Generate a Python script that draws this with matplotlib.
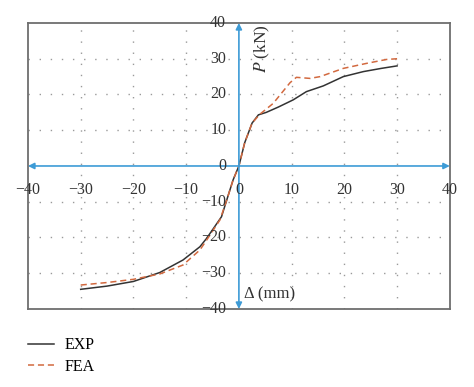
import numpy as np
import matplotlib.pyplot as plt

plt.rcParams['font.family'] = ['Liberation Serif', 'DejaVu Serif']

# EXP curve (displacement mm, load kN)
exp_x = [-30, -25, -20, -15, -10.6, -7.4, -6.1, -3.3, -2.3, -1.1, 0, 1.1, 2.5, 3.7, 5.2, 7.5, 10.3, 12.8, 16, 19.8, 23.6, 27, 30]
exp_y = [-34.5, -33.6, -32.3, -29.8, -26.3, -22.6, -20.2, -14.2, -9.5, -3.9, 0, 6.5, 12, 14.3, 15, 16.5, 18.5, 20.8, 22.4, 25, 26.4, 27.3, 28]

# FEA curve
fea_x = [-30, -25, -20, -15, -10.6, -7.4, -6.1, -3.6, -2.3, -1.1, 0, 1.1, 2.5, 4, 6.5, 9.7, 10.9, 13.5, 15.4, 19.8, 24.2, 28, 30]
fea_y = [-33.3, -32.6, -31.7, -30.2, -27.7, -23.5, -20.7, -15.1, -9.5, -3.9, 0, 6.5, 12, 14.5, 17.5, 23.3, 24.8, 24.5, 25, 27.3, 28.7, 29.8, 30]

ticks = [-40, -30, -20, -10, 0, 10, 20, 30, 40]
grid_ticks = [-30, -20, -10, 10, 20, 30]

blue = '#3d9bd6'

fig = plt.figure(figsize=(4.74, 3.87), dpi=100)
ax = fig.add_axes([0.059, 0.2016, 0.890, 0.739])
ax.set_xlim(-40, 40)
ax.set_ylim(-40, 40)
for s in ax.spines.values():
    s.set_color('#6e6e6e')
    s.set_linewidth(1.3)
ax.set_xticks([])
ax.set_yticks([])

# dotted grid
for g in grid_ticks:
    ax.axvline(g, color='#9a9a9a', lw=1.0, ls=(0, (1, 7)), zorder=0)
    ax.axhline(g, color='#9a9a9a', lw=1.0, ls=(0, (1, 7)), zorder=0)

# centre axes with arrows
ax.annotate('', xy=(40, 0), xytext=(-40, 0),
            arrowprops=dict(arrowstyle='<|-|>', color=blue, lw=1.2,
                            mutation_scale=9, shrinkA=0, shrinkB=0))
ax.annotate('', xy=(0, 40), xytext=(0, -40),
            arrowprops=dict(arrowstyle='<|-|>', color=blue, lw=1.2,
                            mutation_scale=9, shrinkA=0, shrinkB=0))

# tick labels
fs = 11.5
for t in ticks:
    lab = str(t).replace('-', '\u2212')
    ax.text(t, -4.6, lab, ha='center', va='top', fontsize=fs, color='#333333')
    ax.text(-2.4, t, lab, ha='right', va='center', fontsize=fs, color='#333333')

ax.text(4.4, 33, r'$P$ (kN)', rotation=90, ha='center', va='center',
        fontsize=12.5, color='#333333', math_fontfamily='stix')
ax.text(1.0, -36, '\u0394 (mm)', ha='left', va='center', fontsize=12, color='#333333')

l1, = ax.plot(exp_x, exp_y, color='#333333', lw=1.1, label='EXP')
l2, = ax.plot(fea_x, fea_y, color='#d2693f', lw=1.1, ls=(0, (4, 2.5)), label='FEA')

fig.legend(handles=[l1, l2], loc='upper left', bbox_to_anchor=(0.059, 0.128),
           frameon=False, fontsize=fs, handlelength=1.6, handletextpad=0.7,
           labelspacing=0.35, borderaxespad=0, borderpad=0)

fig.savefig('out.png', dpi=100)
